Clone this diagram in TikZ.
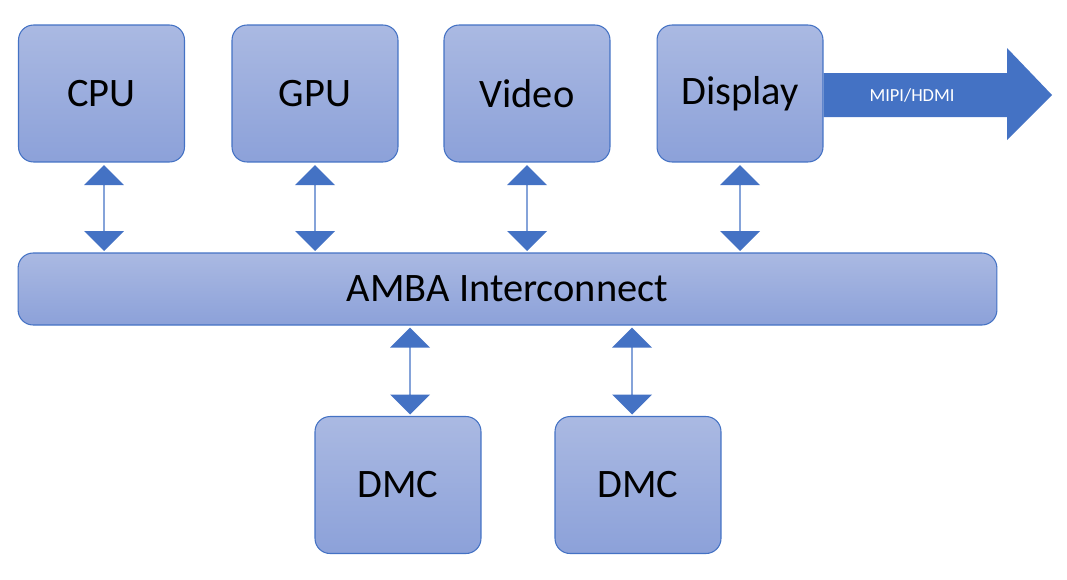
\documentclass[tikz,border=0pt]{standalone}
\usepackage{fontspec}
\setmainfont{Carlito}
\usetikzlibrary{shapes.arrows}
\definecolor{bord}{HTML}{4472C4}
\definecolor{topc}{HTML}{AAB9E2}
\definecolor{botc}{HTML}{8CA1D9}
\begin{document}
\begin{tikzpicture}[x=0.02cm,y=-0.02cm,
  blk/.style={draw=bord,line width=0.6pt,rounded corners=0.3cm,top color=topc,bottom color=botc,
    font=\fontsize{23}{26}\selectfont,inner sep=0pt},
  box/.style={blk,minimum width=3.32cm,minimum height=2.74cm},
  dbl/.style={double arrow,fill=bord,draw=none,rotate=90,minimum width=0.8cm,
    double arrow head extend=0.24cm,double arrow tip angle=90,inner sep=0pt}]
\useasboundingbox (0,0) rectangle (1067,579);
\node[box] (cpu) at (101.5,93.5) {CPU};
\node[box] (gpu) at (315,93.5) {GPU};
\node[box] (video) at (527,93.5) {Video};
\node[box] (disp) at (740,93.5) {Display};
\node[blk,minimum width=19.58cm,minimum height=1.44cm] (amba) at (507.5,289) {AMBA Interconnect};
\node[box] (dmc1) at (398,485) {DMC};
\node[box] (dmc2) at (638,485) {DMC};
\foreach \x/\n in {104/cpu,315/gpu,527/video,740/disp}
  \node[dbl,minimum height=1.72cm] (a\n) at (\x,208) {};
\foreach \x/\n in {410/dmc1,632/dmc2}
  \node[dbl,minimum height=1.74cm] (a\n) at (\x,371) {};
\fill[bord] (disp.east |- 0,73) -- (1007,73) -- (1007,48) -- (1052,95) -- (1007,140) -- (1007,117) -- (disp.east |- 0,117) -- cycle;
\node[text=white,font=\fontsize{10.5}{12}\selectfont] (mipi) at (912,95) {MIPI/HDMI};
\end{tikzpicture}
\end{document}
